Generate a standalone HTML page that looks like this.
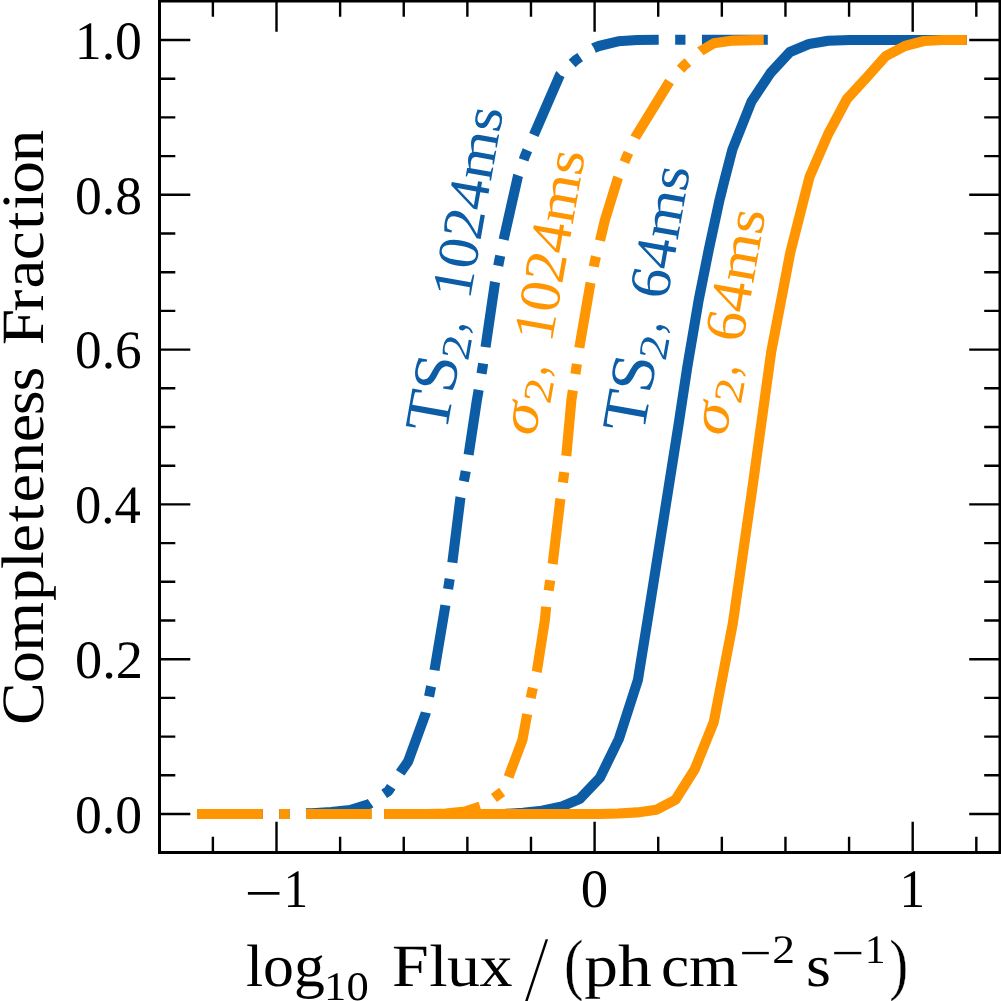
<!DOCTYPE html>
<html><head><meta charset="utf-8"><title>Completeness Fraction</title>
<style>html,body{margin:0;padding:0;background:#fff}svg{display:block}</style></head>
<body>
<svg width="1001" height="1001" viewBox="0 0 1001 1001" font-family="'Liberation Serif', serif" fill="#000" text-rendering="geometricPrecision">
<rect x="0" y="0" width="1001" height="1001" fill="#fff"/>
<g fill="none" stroke-width="10.1" stroke-linejoin="round">
<path d="M197.0,814.0 L290.0,814.0 L311.8,813.2 L331.0,812.0 L350.1,810.0 L369.3,804.0 L388.4,791.0 L400.4,772.5 L408.1,761.5 L425.7,713.2 L430.1,691.2 L434.5,670.3 L445.3,606.0 L448.8,584.6 L452.3,563.1 L460.4,497.8 L464.8,476.3 L468.6,455.0 L476.9,400.0 L482.4,368.4 L485.7,345.9 L494.9,283.3 L499.3,260.2 L503.7,239.3 L518.0,175.8 L525.0,155.9 L533.5,135.9 L559.9,74.9 L575.9,60.0 L593.9,48.0 L598.9,46.0 L618.1,41.3 L637.2,40.0 L658.8,39.8 L771.2,39.8" stroke="#0C5DA5" stroke-dasharray="65.86 16.46 10.29 16.46"/>
<path d="M197.0,814.0 L426.7,814.0 L445.8,813.5 L465.0,811.5 L484.1,805.4 L503.2,791.1 L522.4,740.0 L527.3,713.5 L531.9,692.3 L536.9,671.0 L544.9,620.0 L546.2,606.6 L549.5,585.0 L552.7,563.7 L560.4,498.9 L563.7,476.5 L566.4,455.0 L571.4,400.0 L576.3,368.0 L579.6,346.0 L590.5,283.0 L594.9,261.0 L600.4,239.0 L605.0,219.8 L618.0,177.8 L626.6,156.9 L635.5,136.9 L669.9,80.9 L683.9,65.6 L700.9,51.0 L713.8,43.2 L732.9,40.6 L752.1,40.1 L771.2,40.0" stroke="#FF9500" stroke-dasharray="65.84 16.46 10.29 16.46"/>
<path d="M389.1,814.0 L504.0,814.0 L523.0,812.8 L542.0,810.8 L560.9,806.8 L579.9,798.8 L599.9,777.8 L618.9,738.9 L637.9,680.0 L647.6,620.0 L678.5,425.0 L687.3,367.0 L698.7,300.0 L708.7,250.0 L719.5,200.0 L724.5,180.0 L732.4,149.5 L751.5,101.5 L770.7,72.7 L789.9,52.0 L809.0,44.0 L828.3,40.8 L850.0,40.0 L961.7,40.0" stroke="#0C5DA5" stroke-linecap="square"/>
<path d="M389.1,814.0 L599.0,814.0 L618.1,813.5 L637.2,812.4 L656.4,809.8 L675.5,799.8 L694.6,769.5 L713.8,722.0 L732.9,623.0 L752.1,490.0 L771.2,352.0 L790.3,252.5 L809.5,177.0 L828.2,134.0 L846.9,99.0 L866.3,77.9 L885.9,55.9 L904.9,46.0 L923.9,41.0 L943.0,40.0 L961.7,40.0" stroke="#FF9500" stroke-linecap="square"/>
</g>
<path d="M212.88,852.5v-15.8M212.88,1v15.8M276.50,852.5v-30.8M276.50,1v30.8M340.12,852.5v-15.8M340.12,1v15.8M403.74,852.5v-15.8M403.74,1v15.8M467.36,852.5v-15.8M467.36,1v15.8M530.98,852.5v-15.8M530.98,1v15.8M594.60,852.5v-30.8M594.60,1v30.8M658.22,852.5v-15.8M658.22,1v15.8M721.84,852.5v-15.8M721.84,1v15.8M785.46,852.5v-15.8M785.46,1v15.8M849.08,852.5v-15.8M849.08,1v15.8M912.70,852.5v-30.8M912.70,1v30.8M976.32,852.5v-15.8M976.32,1v15.8M159.5,814.00h30.8M1000,814.00h-30.8M159.5,775.30h15.8M1000,775.30h-15.8M159.5,736.60h15.8M1000,736.60h-15.8M159.5,697.90h15.8M1000,697.90h-15.8M159.5,659.20h30.8M1000,659.20h-30.8M159.5,620.50h15.8M1000,620.50h-15.8M159.5,581.80h15.8M1000,581.80h-15.8M159.5,543.10h15.8M1000,543.10h-15.8M159.5,504.40h30.8M1000,504.40h-30.8M159.5,465.70h15.8M1000,465.70h-15.8M159.5,427.00h15.8M1000,427.00h-15.8M159.5,388.30h15.8M1000,388.30h-15.8M159.5,349.60h30.8M1000,349.60h-30.8M159.5,310.90h15.8M1000,310.90h-15.8M159.5,272.20h15.8M1000,272.20h-15.8M159.5,233.50h15.8M1000,233.50h-15.8M159.5,194.80h30.8M1000,194.80h-30.8M159.5,156.10h15.8M1000,156.10h-15.8M159.5,117.40h15.8M1000,117.40h-15.8M159.5,78.70h15.8M1000,78.70h-15.8M159.5,40.00h30.8M1000,40.00h-30.8" stroke="#000" stroke-width="2.4" fill="none"/>
<rect x="159.5" y="1" width="840.5" height="851.5" fill="none" stroke="#000" stroke-width="3"/>
<text transform="translate(74.79,58.80) scale(0.9959,1.0000)" font-size="54">1.0</text>
<text transform="translate(74.99,213.60) scale(0.9929,1.0000)" font-size="54">0.8</text>
<text transform="translate(75.00,368.40) scale(0.9866,1.0000)" font-size="54">0.6</text>
<text transform="translate(75.03,523.20) scale(0.9743,1.0000)" font-size="54">0.4</text>
<text transform="translate(74.96,678.00) scale(1.0079,1.0000)" font-size="54">0.2</text>
<text transform="translate(74.99,832.80) scale(0.9929,1.0000)" font-size="54">0.0</text>
<text transform="translate(244.60,911.92) scale(1.2585,1.0370)" font-size="54">−</text>
<text transform="translate(283.76,906.80) scale(0.8983,1.0000)" font-size="54">1</text>
<text transform="translate(580.84,907.20) scale(1.0153,1.0000)" font-size="54">0</text>
<text transform="translate(899.53,906.80) scale(0.9456,1.0000)" font-size="54">1</text>
<text transform="translate(0,985.60) scale(1.0289,1)" x="239.05 255.72 285.72" font-size="60">log</text>
<text transform="translate(324.10,999.60) scale(1.1005,1.0000)" font-size="40.5">10</text>
<text transform="translate(0,985.60) scale(1.0994,1)" x="356.62 390.39 406.50 436.10" font-size="60">Flux</text>
<text transform="translate(523.60,1002.04) scale(1.5495,1.6070)" font-size="60" stroke="#fff" stroke-width="1.15">/</text>
<text transform="translate(564.11,986.87) scale(0.9773,1.1478)" font-size="60" stroke="#fff" stroke-width="0.3">(</text>
<text transform="translate(0,985.60) scale(1.1243,1)" x="519.76 549.76" font-size="60">ph</text>
<text transform="translate(0,985.60) scale(1.0542,1)" x="626.99 653.62" font-size="60">cm</text>
<text transform="translate(739.33,968.96) scale(1.3671,1.1429)" font-size="42">−</text>
<text transform="translate(772.27,963.30) scale(1.1226,1.0000)" font-size="40.5">2</text>
<text transform="translate(805.94,985.60) scale(1.0667,1.0000)" font-size="60">s</text>
<text transform="translate(831.18,968.96) scale(1.3927,1.1429)" font-size="42">−</text>
<text transform="translate(864.93,963.30) scale(1.0087,1.0000)" font-size="40.5">1</text>
<text transform="translate(889.16,986.87) scale(0.9450,1.1478)" font-size="60" stroke="#fff" stroke-width="0.3">)</text>
<g transform="translate(43.4,722.1) rotate(-90)">
<text transform="translate(0,0.00) scale(1.0640,1)" x="-2.77 36.79 66.14 113.74 143.98 159.41 187.94 206.51 233.09 263.04 288.37 310.65" font-size="60">Completeness</text>
<text transform="translate(0,0.00) scale(1.0871,1)" x="346.74 377.65 398.90 424.91 452.84 471.21 485.98 515.07" font-size="60">Fraction</text>
</g>
<g transform="translate(446.28,433.67) rotate(-80)" fill="#0C5DA5"><text transform="translate(0,0.00) scale(1.0429,1)" x="-0.54 37.94" font-size="63">TS</text><text transform="translate(74.54,9.00) scale(1.1962,1.0000)" font-size="41">2</text><text transform="translate(101.97,0.00) scale(0.7310,1.0000)" font-size="58">,</text><text transform="translate(0,0.00) scale(1.0345,1)" x="130.59 159.59 188.59 217.59" font-size="58">1024</text><text transform="translate(0,0.00) scale(1.1265,1)" x="226.85 270.41" font-size="56">ms</text></g>
<g transform="translate(535.52,435.15) rotate(-80)" fill="#FF9500"><text transform="translate(-1.95,0.00) scale(1.1580,1.0000)" font-size="56" font-style="italic">σ</text><text transform="translate(32.12,9.00) scale(1.1962,1.0000)" font-size="41">2</text><text transform="translate(59.61,0.00) scale(0.7310,1.0000)" font-size="58">,</text><text transform="translate(0,0.00) scale(1.0345,1)" x="89.62 118.62 147.62 176.62" font-size="58">1024</text><text transform="translate(0,0.00) scale(1.1265,1)" x="189.23 232.79" font-size="56">ms</text></g>
<g transform="translate(643.58,433.67) rotate(-80)" fill="#0C5DA5"><text transform="translate(0,0.00) scale(1.0429,1)" x="-0.54 37.94" font-size="63">TS</text><text transform="translate(74.54,9.00) scale(1.1962,1.0000)" font-size="41">2</text><text transform="translate(101.97,0.00) scale(0.7310,1.0000)" font-size="58">,</text><text transform="translate(0,0.00) scale(1.0345,1)" x="130.59 159.59" font-size="58">64</text><text transform="translate(0,0.00) scale(1.1265,1)" x="173.59 217.15" font-size="56">ms</text></g>
<g transform="translate(726.32,435.15) rotate(-80)" fill="#FF9500"><text transform="translate(-1.95,0.00) scale(1.1580,1.0000)" font-size="56" font-style="italic">σ</text><text transform="translate(32.12,9.00) scale(1.1962,1.0000)" font-size="41">2</text><text transform="translate(59.61,0.00) scale(0.7310,1.0000)" font-size="58">,</text><text transform="translate(0,0.00) scale(1.0345,1)" x="89.62 118.62" font-size="58">64</text><text transform="translate(0,0.00) scale(1.1265,1)" x="135.96 179.52" font-size="56">ms</text></g>
</svg>
</body></html>
